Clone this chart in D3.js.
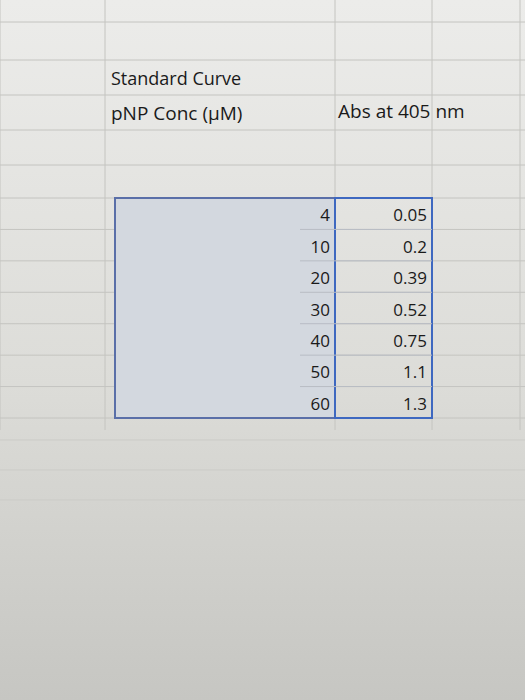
<!DOCTYPE html>
<html><head><meta charset="utf-8">
<script src="https://cdn.jsdelivr.net/npm/d3@7"></script>
<style>body{margin:0;background:#d8d8d4}</style>
</head><body>
<svg id="chart" width="525" height="700"></svg>
<script>
// spreadsheet photo: standard curve table
const title = 'Standard Curve';
const headers = ['pNP Conc (µM)', 'Abs at 405 nm'];
const conc = ['4', '10', '20', '30', '40', '50', '60'];
const absorb = ['0.05', '0.2', '0.39', '0.52', '0.75', '1.1', '1.3'];

const svg = d3.select('#chart');
const width = 525, height = 700;

// background gradient to mimic the photo lighting
const defs = svg.append('defs');
const grad = defs.append('linearGradient').attr('id', 'bg').attr('x1', 0).attr('y1', 0).attr('x2', 0).attr('y2', 1);
grad.append('stop').attr('offset', '0%').attr('stop-color', '#ececea');
grad.append('stop').attr('offset', '55%').attr('stop-color', '#dcdcd8');
grad.append('stop').attr('offset', '100%').attr('stop-color', '#c6c6c2');
svg.append('rect').attr('width', width).attr('height', height).attr('fill', 'url(#bg)');

// grid lines
const gridRows = [22, 60, 95, 130, 165, 198];
const y = d3.scaleBand().domain(conc).range([198, 418]);
const colX = [0, 105, 335, 432, 520];
const g = svg.append('g').attr('stroke', '#c4c4c0').attr('stroke-width', 1);
gridRows.concat(conc.map(c => y(c) + y.bandwidth())).forEach(v => {
  g.append('line').attr('x1', 0).attr('x2', width).attr('y1', v).attr('y2', v);
});
[440, 470, 500].forEach(v => g.append('line').attr('x1', 0).attr('x2', width).attr('y1', v).attr('y2', v).attr('stroke', '#cbcbc7'));
colX.forEach(v => g.append('line').attr('x1', v).attr('x2', v).attr('y1', 0).attr('y2', 430));

// selected range
svg.append('rect').attr('x', 115).attr('y', 198).attr('width', 220).attr('height', 220)
  .attr('fill', '#d3d8df').attr('stroke', '#5a6fa8').attr('stroke-width', 2);
svg.append('rect').attr('x', 335).attr('y', 198).attr('width', 97).attr('height', 220)
  .attr('fill', 'none').attr('stroke', '#3e68c0').attr('stroke-width', 2);
svg.append('g').attr('stroke', '#b8bcc4').selectAll('line').data(conc.slice(0, -1)).join('line')
  .attr('x1', 300).attr('x2', 432)
  .attr('y1', d => y(d) + y.bandwidth()).attr('y2', d => y(d) + y.bandwidth());

const font = "'Open Sans', 'Liberation Sans', sans-serif";
svg.append('text').attr('x', 111).attr('y', 85).text(title)
  .attr('font-family', font).attr('font-size', 18).attr('fill', '#1a1a1a');
svg.append('text').attr('x', 111).attr('y', 120).text(headers[0])
  .attr('font-family', font).attr('font-size', 19).attr('fill', '#1a1a1a');
svg.append('text').attr('x', 338).attr('y', 118).text(headers[1])
  .attr('font-family', font).attr('font-size', 19).attr('fill', '#1a1a1a');

svg.append('g').selectAll('text').data(conc).join('text')
  .attr('x', 330).attr('y', d => y(d) + y.bandwidth() * 0.74)
  .attr('text-anchor', 'end').attr('font-family', font).attr('font-size', 17).attr('fill', '#1a1a1a')
  .text(d => d);
svg.append('g').selectAll('text').data(absorb).join('text')
  .attr('x', 427).attr('y', (d, i) => y(conc[i]) + y.bandwidth() * 0.74)
  .attr('text-anchor', 'end').attr('font-family', font).attr('font-size', 17).attr('fill', '#1a1a1a')
  .text(d => d);
</script>
</body></html>
